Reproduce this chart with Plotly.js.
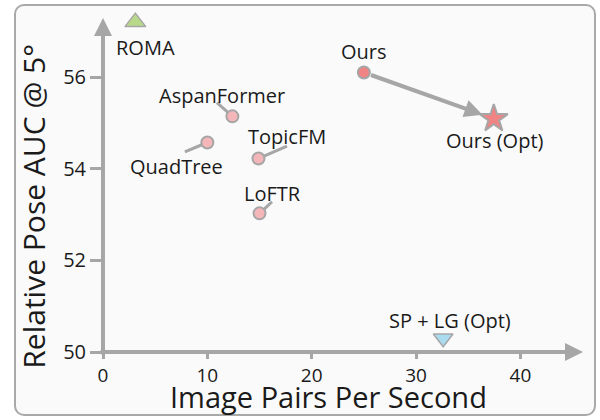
<!DOCTYPE html>
<html>
<head>
<meta charset="utf-8">
<script src="https://cdn.plot.ly/plotly-3.0.1.min.js"></script>
<style>
  html, body { margin: 0; padding: 0; background: #ffffff; }
  #frame { position: absolute; left: 14px; top: 4px; width: 578px; height: 408px;
           border: 2.5px solid #a9a9a9; border-radius: 10px; background: #fafafa; }
  #chart { position: absolute; left: 0; top: 0; width: 600px; height: 420px; }
</style>
</head>
<body>
<div id="frame"></div>
<div id="chart"></div>
<script>
// ---- data ----
const baselineNames = ['AspanFormer', 'QuadTree', 'TopicFM', 'LoFTR'];
const baselineFps   = [12.4, 10.0, 14.9, 15.0];
const baselineAuc   = [55.15, 54.58, 54.23, 53.03];

const oursName = ['Ours'];
const oursFps  = [25.0];
const oursAuc  = [56.11];

const oursOptName = ['Ours (Opt)'];
const oursOptFps  = [37.45];
const oursOptAuc  = [55.10];

const romaName = ['ROMA'];
const romaFps  = [3.1];
const romaAuc  = [57.21];

const splgName = ['SP + LG (Opt)'];
const splgFps  = [32.6];
const splgAuc  = [50.30];

const xTickVals = [0, 10, 20, 30, 40];
const yTickVals = [50, 52, 54, 56];

const xTitle = 'Image Pairs Per Second';
const yTitle = 'Relative Pose AUC @ 5°';

// ---- styling (label placement in pixels relative to markers) ----
const GRAY = '#a6a6a6';
const FONT = 'Open Sans, Noto Sans, sans-serif';
const TXT = '#1a1a1a';
const LABEL_SIZE = 20;
const baselineTextShift = [[-10, 21], [-31, -24], [29, 22], [13, 20]];
const baselineLeader   = [[-17, -15], [-24, 10], [30, -13], [14, -13]];

const traces = [
  { x: baselineFps, y: baselineAuc, text: baselineNames, mode: 'markers', type: 'scatter',
    cliponaxis: false, hoverinfo: 'text',
    marker: { symbol: 'circle', size: 12, color: '#f5b6b9', line: { color: GRAY, width: 2 } } },
  { x: oursFps, y: oursAuc, text: oursName, mode: 'markers', type: 'scatter', cliponaxis: false,
    marker: { symbol: 'circle', size: 12, color: '#f08383', line: { color: GRAY, width: 2 } } },
  { x: oursOptFps, y: oursOptAuc, text: oursOptName, mode: 'markers', type: 'scatter', cliponaxis: false,
    marker: { symbol: 'star', size: 21, color: '#f08383', line: { color: GRAY, width: 2 } } },
  { x: romaFps, y: romaAuc, text: romaName, mode: 'markers', type: 'scatter', cliponaxis: false,
    marker: { symbol: 'triangle-up', size: 18, color: '#b9d98a', line: { color: GRAY, width: 1.5 } } },
  { x: splgFps, y: splgAuc, text: splgName, mode: 'markers', type: 'scatter', cliponaxis: false,
    marker: { symbol: 'triangle-down', size: 17, color: '#aadcf0', line: { color: GRAY, width: 1.5 } } }
];

const lblFont = { family: FONT, size: LABEL_SIZE, color: TXT };
const annotations = [];
// axis arrows
annotations.push({ xref: 'paper', yref: 'paper', x: 1.0, y: 0, ax: -484, ay: 0, text: '',
  showarrow: true, arrowhead: 2, arrowsize: 0.9, arrowwidth: 4, arrowcolor: GRAY });
annotations.push({ xref: 'paper', yref: 'paper', x: 0, y: 1.0, ax: 0, ay: 338, text: '',
  showarrow: true, arrowhead: 2, arrowsize: 0.9, arrowwidth: 4, arrowcolor: GRAY });
// improvement arrow Ours -> Ours (Opt)
annotations.push({ xref: 'x', yref: 'y', axref: 'x', ayref: 'y',
  x: oursOptFps[0], y: oursOptAuc[0], ax: oursFps[0], ay: oursAuc[0], text: '',
  showarrow: true, arrowhead: 2, arrowsize: 0.9, arrowwidth: 4, arrowcolor: GRAY,
  standoff: 12, startstandoff: 6 });
// baseline labels and leader lines
baselineNames.forEach((n, i) => {
  annotations.push({ xref: 'x', yref: 'y', x: baselineFps[i], y: baselineAuc[i], text: '',
    ax: baselineLeader[i][0], ay: baselineLeader[i][1],
    showarrow: true, arrowhead: 0, arrowwidth: 3, arrowcolor: GRAY, standoff: 6 });
  annotations.push({ xref: 'x', yref: 'y', x: baselineFps[i], y: baselineAuc[i], text: n,
    showarrow: false, xshift: baselineTextShift[i][0], yshift: baselineTextShift[i][1], font: lblFont });
});
annotations.push({ xref: 'x', yref: 'y', x: romaFps[0], y: romaAuc[0], text: romaName[0],
  showarrow: false, xshift: 10, yshift: -25, font: lblFont });
annotations.push({ xref: 'x', yref: 'y', x: oursFps[0], y: oursAuc[0], text: oursName[0],
  showarrow: false, yshift: 21, font: lblFont });
annotations.push({ xref: 'x', yref: 'y', x: oursOptFps[0], y: oursOptAuc[0], text: oursOptName[0],
  showarrow: false, yshift: -22, xshift: 1, font: lblFont });
annotations.push({ xref: 'x', yref: 'y', x: splgFps[0], y: splgAuc[0], text: splgName[0],
  showarrow: false, yshift: 18, xshift: 7, font: lblFont });
// axis titles placed to match the reference's centring
annotations.push({ xref: 'paper', yref: 'paper', x: -0.1466, y: 0.437, xanchor: 'center', yanchor: 'middle',
  text: yTitle, textangle: -90, showarrow: false, font: { family: FONT, size: 30, color: TXT } });
annotations.push({ xref: 'paper', yref: 'paper', x: 0.469, y: -0.134, xanchor: 'center', yanchor: 'middle',
  text: xTitle, showarrow: false, font: { family: FONT, size: 29, color: TXT } });

const layout = {
  width: 600, height: 420,
  margin: { l: 103, r: 17, t: 18, b: 68 },
  paper_bgcolor: 'rgba(0,0,0,0)', plot_bgcolor: 'rgba(0,0,0,0)',
  showlegend: false,
  font: { family: FONT, color: TXT },
  xaxis: {
    range: [0, 46.0], tickvals: xTickVals, ticks: 'outside', ticklen: 6, tickwidth: 3,
    tickcolor: GRAY, showline: false, zeroline: false, showgrid: false,
    tickfont: { family: FONT, size: 19, color: TXT }
  },
  yaxis: {
    range: [50, 57.3], tickvals: yTickVals, ticks: 'outside', ticklen: 12, tickwidth: 3,
    tickcolor: GRAY, showline: false, zeroline: false, showgrid: false,
    tickfont: { family: FONT, size: 20, color: TXT }
  },
  annotations: annotations
};

Plotly.newPlot('chart', traces, layout, { displayModeBar: false, staticPlot: true });
</script>
</body>
</html>
